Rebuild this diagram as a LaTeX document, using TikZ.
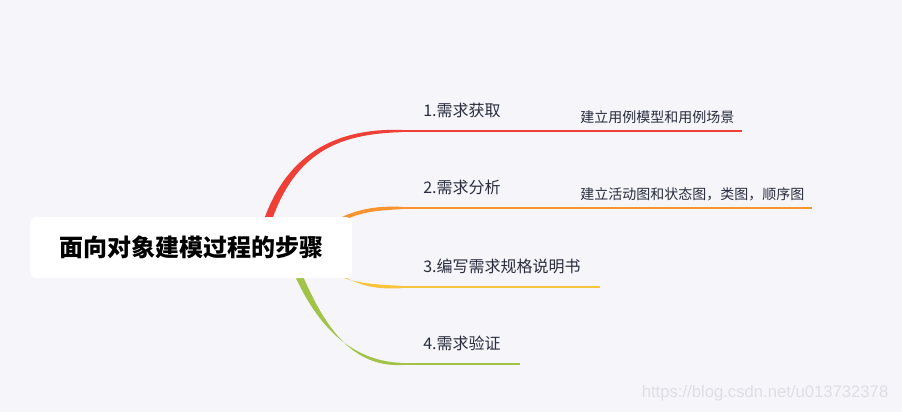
\documentclass[tikz,border=0pt]{standalone}
\usepackage{fontspec}
\newfontfamily\cjk{Noto Sans CJK SC}
\setsansfont{Liberation Sans}
\usetikzlibrary{positioning, calc, backgrounds}
\definecolor{PaleLilac}{RGB}{245, 245, 250}
\definecolor{InkNavy}{RGB}{40, 44, 60}
\definecolor{BranchRed}{RGB}{238, 64, 54}
\definecolor{BranchOrange}{RGB}{247, 148, 48}
\definecolor{BranchYellow}{RGB}{252, 196, 60}
\definecolor{BranchGreen}{RGB}{160, 195, 72}
\definecolor{MarkGrey}{RGB}{222, 222, 228}

% tapered limb: colour, root, control 1, control 2, tip
\newcommand{\branchlimb}[5]{%
  \fill[#1] ($(#2)+(-4,0)$) .. controls ($#3+(-4.5,0)$) and ($#4+(0,-3)$) .. ($(#5)+(0,-1.1)$)
    -- ($(#5)+(0,1.1)$) .. controls ($#4+(0,3)$) and ($#3+(4.5,0)$) .. ($(#2)+(4,0)$) -- cycle;}

\begin{document}
\begin{tikzpicture}[
        x=0.75pt, y=-0.75pt,
        topic/.style={fill=white, rounded corners=4pt, minimum width=241.5pt, minimum height=45.75pt, font=\cjk\bfseries\fontsize{18}{22}\selectfont, text=black},
        branch/.style={anchor=west, inner sep=0pt, font=\cjk\fontsize{12}{14}\selectfont, text=InkNavy},
        note/.style={anchor=west, inner sep=0pt, font=\cjk\fontsize{10.5}{12}\selectfont, text=InkNavy},
        stem/.style={line width=1.5pt}
    ]
        \node[topic] (title) at (191,247.5) {面向对象建模过程的步骤};

        \coordinate (r1) at ($(title.center)+(71,-8)$);
        \coordinate (r2) at ($(title.center)+(129,-13)$);
        \coordinate (r3) at ($(title.center)+(129,14)$);
        \coordinate (r4) at ($(title.center)+(99,7)$);

        \coordinate (b1) at (402,131); \coordinate (e1) at (742,131);
        \coordinate (b2) at (402,208); \coordinate (e2) at (812,208);
        \coordinate (b3) at (402,287); \coordinate (e3) at (600,287);
        \coordinate (b4) at (402,364); \coordinate (e4) at (520,364);

        \begin{scope}[on background layer]
            \fill[PaleLilac] (0,0) rectangle (902,412);
            \branchlimb{BranchRed}{r1}{(285,150)}{(340,131)}{b1}
            \branchlimb{BranchOrange}{r2}{(345,212)}{(370,208)}{b2}
            \branchlimb{BranchYellow}{r3}{(345,284)}{(370,287)}{b3}
            \branchlimb{BranchGreen}{r4}{(316,322)}{(348,364)}{b4}
        \end{scope}

        \draw[stem, BranchRed] (b1) -- (e1);
        \draw[stem, BranchOrange] (b2) -- (e2);
        \draw[stem, BranchYellow] (b3) -- (e3);
        \draw[stem, BranchGreen] (b4) -- (e4);

        \node[branch] (l1) at ($(b1)+(21,-21)$) {1.需求获取};
        \node[branch] (l2) at ($(b2)+(21,-21)$) {2.需求分析};
        \node[branch] (l3) at ($(b3)+(21,-21)$) {3.编写需求规格说明书};
        \node[branch] (l4) at ($(b4)+(21,-21)$) {4.需求验证};

        \node[note] (n1) at ($(b1)+(178,-13.5)$) {建立用例模型和用例场景};
        \node[note] (n2) at ($(b2)+(178,-13.5)$) {建立活动图和状态图，类图，顺序图};

        \node[anchor=east, font=\sffamily\fontsize{12.5}{14}\selectfont, text=MarkGrey] (mark) at (893,393) {https://blog.csdn.net/u013732378};
    \end{tikzpicture}
\end{document}
